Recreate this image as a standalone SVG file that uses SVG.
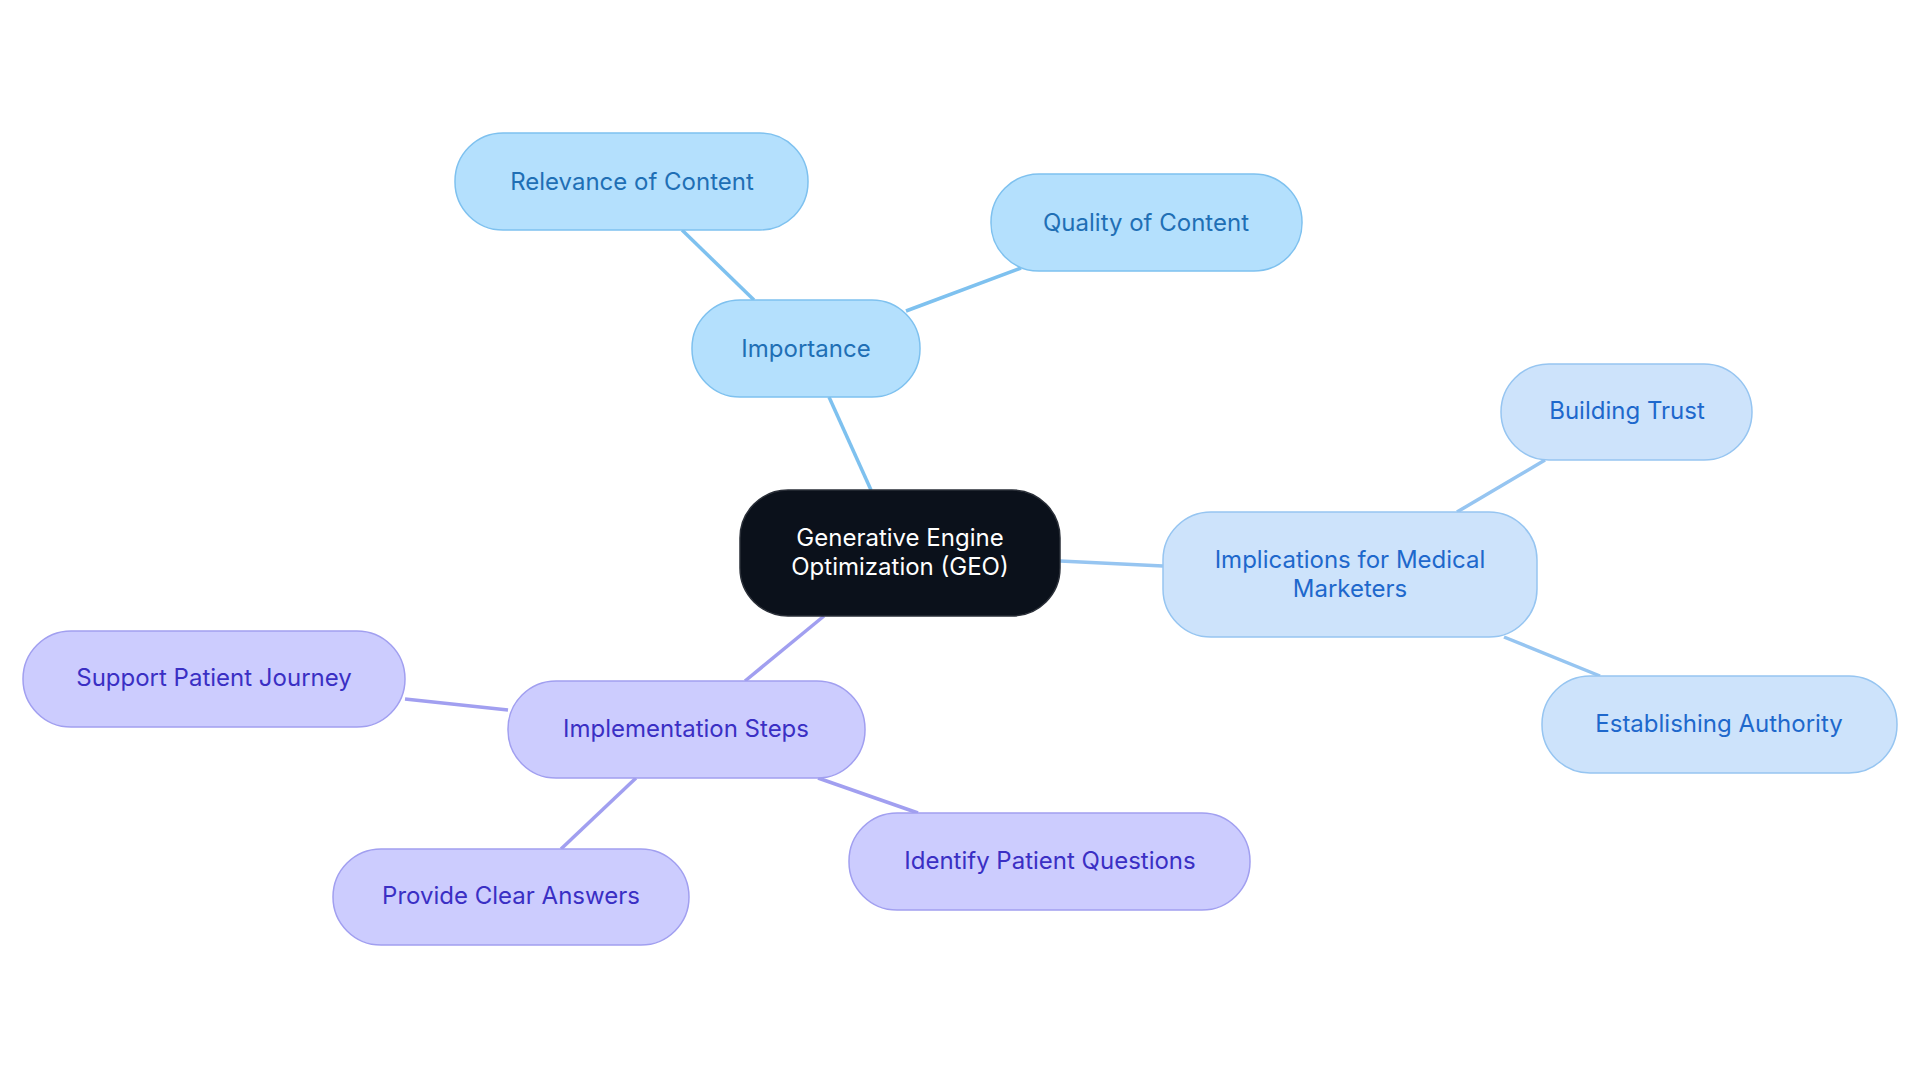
<svg xmlns="http://www.w3.org/2000/svg" width="1920" height="1083" viewBox="0 0 1920 1083">
<style>
text{font-family:Inter,"Noto Sans",sans-serif;font-size:24px;text-anchor:middle;dominant-baseline:central}
.b rect{fill:#b4e0fd;stroke:#7ec1ef;stroke-width:1.5}.b text{fill:#1f6fb5}
.l rect{fill:#cde3fb;stroke:#96c5f1;stroke-width:1.5}.l text{fill:#1e68cc}
.p rect{fill:#ccccfe;stroke:#a19ff0;stroke-width:1.5}.p text{fill:#3a2fc4}
.e line{stroke-width:3.5}
</style>
<g class="e" id="connectors">
<line x1="871" y1="490" x2="829" y2="397" stroke="#7ec1ef"/>
<line x1="754" y1="300" x2="682" y2="230" stroke="#7ec1ef"/>
<line x1="906" y1="311" x2="1021" y2="268" stroke="#7ec1ef"/>
<line x1="1060" y1="561" x2="1163" y2="566" stroke="#96c5f1"/>
<line x1="1457" y1="512" x2="1545" y2="460" stroke="#96c5f1"/>
<line x1="1504" y1="637" x2="1600" y2="676" stroke="#96c5f1"/>
<line x1="824" y1="616" x2="745" y2="681" stroke="#a19ff0"/>
<line x1="508" y1="710" x2="405" y2="699" stroke="#a19ff0"/>
<line x1="636" y1="778" x2="561" y2="849" stroke="#a19ff0"/>
<line x1="818" y1="778" x2="918" y2="813" stroke="#a19ff0"/>
</g>
<g id="center"><rect x="740" y="490" width="320" height="126" rx="48" fill="#0b111b" stroke="#2a2f38" stroke-width="1.5"/>
<text x="900" y="537" fill="#fff">Generative Engine</text><text x="900" y="566" fill="#fff">Optimization (GEO)</text></g>
<g id="importance" class="b"><rect x="692" y="300" width="228" height="97" rx="48"/><text x="806" y="348">Importance</text></g>
<g id="relevance" class="b"><rect x="455" y="133" width="353" height="97" rx="48"/><text x="632" y="181">Relevance of Content</text></g>
<g id="quality" class="b"><rect x="991" y="174" width="311" height="97" rx="48"/><text x="1146" y="222">Quality of Content</text></g>
<g id="implications" class="l"><rect x="1163" y="512" width="374" height="125" rx="48"/><text x="1350" y="559">Implications for Medical</text><text x="1350" y="588">Marketers</text></g>
<g id="trust" class="l"><rect x="1501" y="364" width="251" height="96" rx="48"/><text x="1627" y="410">Building Trust</text></g>
<g id="authority" class="l"><rect x="1542" y="676" width="355" height="97" rx="48"/><text x="1719" y="723">Establishing Authority</text></g>
<g id="implementation" class="p"><rect x="508" y="681" width="357" height="97" rx="48"/><text x="686" y="728">Implementation Steps</text></g>
<g id="support" class="p"><rect x="23" y="631" width="382" height="96" rx="48"/><text x="214" y="677">Support Patient Journey</text></g>
<g id="provide" class="p"><rect x="333" y="849" width="356" height="96" rx="48"/><text x="511" y="895">Provide Clear Answers</text></g>
<g id="identify" class="p"><rect x="849" y="813" width="401" height="97" rx="48"/><text x="1050" y="860">Identify Patient Questions</text></g>
</svg>
